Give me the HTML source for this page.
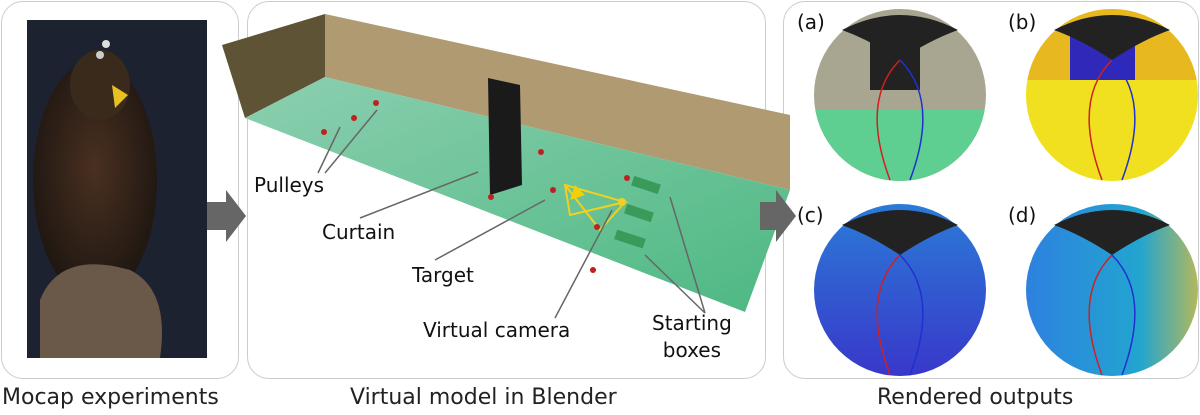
<!DOCTYPE html>
<html><head><style>
body{margin:0;width:1200px;height:415px;background:#fff;font-family:"DejaVu Sans","Liberation Sans",sans-serif;position:relative;overflow:hidden}
.p{position:absolute;border:1px solid #ccc;border-radius:22px;background:#fff}
.l{position:absolute;font-size:22px;color:#222;white-space:nowrap}
.t{position:absolute;font-size:20px;color:#111;white-space:nowrap}
</style></head><body>
<div class="p" style="left:1px;top:1px;width:236px;height:376px"></div>
<div class="p" style="left:247px;top:1px;width:517px;height:376px"></div>
<div class="p" style="left:783px;top:1px;width:414px;height:376px"></div>
<svg width="1200" height="415" style="position:absolute;left:0;top:0">
<defs>
<radialGradient id="bird" cx="0.5" cy="0.45" r="0.6"><stop offset="0" stop-color="#4a3020"/><stop offset="1" stop-color="#1a1410"/></radialGradient>
<clipPath id="c1"><circle cx="900" cy="95" r="86"/></clipPath>
<clipPath id="c2"><circle cx="1112" cy="95" r="86"/></clipPath>
<clipPath id="c3"><circle cx="900" cy="290" r="86"/></clipPath>
<clipPath id="c4"><circle cx="1112" cy="290" r="86"/></clipPath>
<linearGradient id="fl" x1="0" y1="0" x2="1" y2="1"><stop offset="0" stop-color="#8ccfb0"/><stop offset="1" stop-color="#4db882"/></linearGradient>
<linearGradient id="blu" x1="0" y1="0" x2="0" y2="1"><stop offset="0" stop-color="#2a7fd8"/><stop offset="1" stop-color="#3a30c8"/></linearGradient>
<linearGradient id="vf" x1="0" y1="0" x2="1" y2="0"><stop offset="0" stop-color="#2e7fe0"/><stop offset="0.6" stop-color="#22a5d0"/><stop offset="1" stop-color="#e8c030"/></linearGradient>
</defs>
<rect x="27" y="20" width="180" height="338" fill="#1c2230"/>
<ellipse cx="95" cy="180" rx="62" ry="120" fill="url(#bird)"/>
<ellipse cx="100" cy="85" rx="30" ry="35" fill="#3a2a1c"/>
<polygon points="112,85 128,95 115,108" fill="#e8c020"/>
<path d="M40,300 Q60,250 130,270 Q170,290 160,358 L40,358 Z" fill="#6a5848"/>
<circle cx="106" cy="44" r="4" fill="#ddd"/><circle cx="100" cy="55" r="4" fill="#ccc"/>
<polygon points="222,45 325,14 325,77 245,118" fill="#5e5335"/>
<polygon points="325,14 790,115 790,190 325,77" fill="#b09a72"/>
<polygon points="245,118 325,77 790,190 745,312" fill="url(#fl)"/>
<path d="M488,78 L520,85 L522,185 L490,195 Z" fill="#1a1a1a"/>
<path d="M565,185 L625,202 L570,215 Z M625,202 L600,230 L565,185" fill="none" stroke="#f0d020" stroke-width="2"/>
<polygon points="575,185 585,195 570,200" fill="#f5d000"/>
<circle cx="622" cy="202" r="4" fill="#f0d020"/>
<rect x="632" y="180" width="28" height="10" fill="#3a9a5a" transform="rotate(18 646 185)"/>
<rect x="625" y="208" width="28" height="10" fill="#3a9a5a" transform="rotate(18 639 213)"/>
<rect x="615" y="234" width="30" height="10" fill="#3a9a5a" transform="rotate(18 630 239)"/>
<g fill="#c02020"><circle cx="324" cy="132" r="3"/><circle cx="354" cy="118" r="3"/><circle cx="376" cy="103" r="3"/><circle cx="541" cy="152" r="3"/><circle cx="491" cy="197" r="3"/><circle cx="627" cy="178" r="3"/><circle cx="597" cy="227" r="3"/><circle cx="593" cy="270" r="3"/><circle cx="553" cy="190" r="3"/></g>
<g stroke="#666" stroke-width="1.5"><line x1="318" y1="173" x2="340" y2="127"/><line x1="325" y1="173" x2="377" y2="110"/><line x1="360" y1="218" x2="478" y2="172"/><line x1="435" y1="260" x2="545" y2="200"/><line x1="555" y1="318" x2="612" y2="210"/><line x1="705" y1="313" x2="670" y2="197"/><line x1="705" y1="313" x2="645" y2="255"/></g>
<polygon points="207,202 226,202 226,190 246,216 226,242 226,230 207,230" fill="#666"/>
<polygon points="760,202 776,202 776,190 796,216 776,242 776,230 760,230" fill="#666"/>
<g clip-path="url(#c1)"><rect x="800" y="0" width="200" height="200" fill="#a8a690"/><rect x="800" y="110" width="200" height="90" fill="#5ecf90"/><rect x="870" y="30" width="50" height="60" fill="#222"/></g>
<g clip-path="url(#c2)"><rect x="1020" y="0" width="200" height="200" fill="#f0e020"/><rect x="1020" y="0" width="200" height="80" fill="#e8b820"/><rect x="1070" y="30" width="65" height="50" fill="#3028b8"/></g>
<g clip-path="url(#c3)"><rect x="800" y="195" width="200" height="200" fill="url(#blu)"/></g>
<g clip-path="url(#c4)"><rect x="1020" y="195" width="200" height="200" fill="url(#vf)"/></g>
<g fill="#222"><path d="M842,30 Q900,0 958,30 Q930,40 900,60 Q870,40 842,30Z"/><path d="M1054,30 Q1112,0 1170,30 Q1142,40 1112,60 Q1082,40 1054,30Z"/><path d="M842,225 Q900,195 958,225 Q930,235 900,255 Q870,235 842,225Z"/><path d="M1054,225 Q1112,195 1170,225 Q1142,235 1112,255 Q1082,235 1054,225Z"/></g>
<g fill="none" stroke-width="1.5">
<g stroke="#d02020"><path d="M900,60 Q860,100 890,180"/><path d="M1112,60 Q1072,100 1102,180"/><path d="M900,255 Q860,295 890,375"/><path d="M1112,255 Q1072,295 1102,375"/></g>
<g stroke="#2030d0"><path d="M900,60 Q940,100 910,180"/><path d="M1112,60 Q1152,100 1122,180"/><path d="M900,255 Q940,295 910,375"/><path d="M1112,255 Q1152,295 1122,375"/></g>
</g>
</svg>
<div class="t" style="left:254px;top:173px">Pulleys</div>
<div class="t" style="left:322px;top:220px">Curtain</div>
<div class="t" style="left:412px;top:263px">Target</div>
<div class="t" style="left:423px;top:318px">Virtual camera</div>
<div class="t" style="left:652px;top:310px;text-align:center;line-height:27px">Starting<br>boxes</div>
<div class="t" style="left:797px;top:10px">(a)</div>
<div class="t" style="left:1008px;top:10px">(b)</div>
<div class="t" style="left:797px;top:203px">(c)</div>
<div class="t" style="left:1008px;top:203px">(d)</div>
<div class="l" style="left:2px;top:385px">Mocap experiments</div>
<div class="l" style="left:350px;top:385px">Virtual model in Blender</div>
<div class="l" style="left:877px;top:385px">Rendered outputs</div>
</body></html>
